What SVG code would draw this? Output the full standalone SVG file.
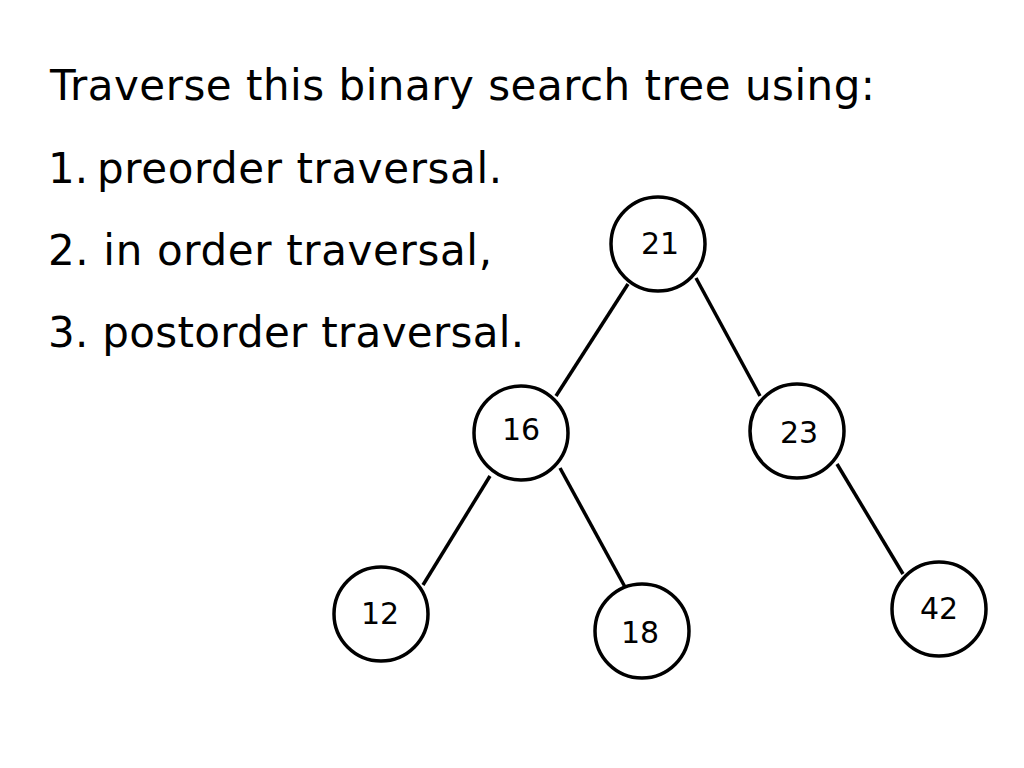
<svg xmlns="http://www.w3.org/2000/svg" width="1024" height="768" viewBox="0 0 1024 768">
<style>
.t{font-family:"DejaVu Sans","Noto Sans",sans-serif;font-size:42px;fill:#000}
.n circle{fill:#fff;stroke:#000;stroke-width:3.5}
.n text{font-family:"DejaVu Sans",sans-serif;font-size:30px;fill:#000;text-anchor:middle}
#edges line{stroke:#000;stroke-width:3.5}
</style>
<rect width="1024" height="768" fill="#fff"/>
<text class="t" x="50" y="100" textLength="825">Traverse this binary search tree using:</text>
<text class="t" x="48" y="183">1.</text><text class="t" x="97" y="183" textLength="405">preorder traversal.</text>
<text class="t" x="48" y="265" textLength="444">2. in order traversal,</text>
<text class="t" x="48" y="347" textLength="476">3. postorder traversal.</text>
<g id="edges">
<line x1="628" y1="284" x2="556" y2="396"/>
<line x1="696" y1="278" x2="760" y2="396"/>
<line x1="490" y1="476" x2="423" y2="585"/>
<line x1="560" y1="468" x2="625" y2="587"/>
<line x1="837" y1="464" x2="903" y2="574"/>
</g>
<g id="n21" class="n"><circle cx="658" cy="244" r="47"/><text x="660" y="254">21</text></g>
<g id="n16" class="n"><circle cx="521" cy="433" r="47"/><text x="521" y="440">16</text></g>
<g id="n23" class="n"><circle cx="797" cy="431" r="47"/><text x="799" y="443">23</text></g>
<g id="n12" class="n"><circle cx="381" cy="614" r="47"/><text x="380" y="624">12</text></g>
<g id="n18" class="n"><circle cx="642" cy="631" r="47"/><text x="640" y="643">18</text></g>
<g id="n42" class="n"><circle cx="939" cy="609" r="47"/><text x="939" y="619">42</text></g>
</svg>
